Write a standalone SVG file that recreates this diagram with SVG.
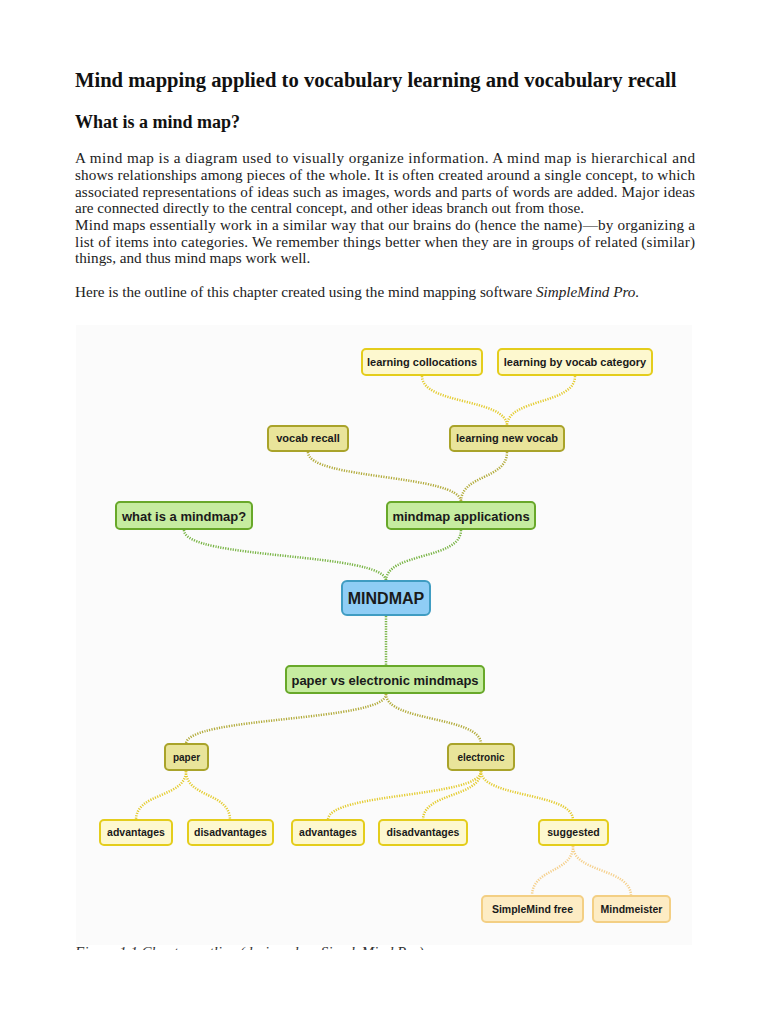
<svg xmlns="http://www.w3.org/2000/svg" width="768" height="1024" viewBox="0 0 768 1024">
<defs>
<clipPath id="capclip"><rect x="0" y="930" width="768" height="20"/></clipPath>
</defs>
<style>
.h1{font-family:"Liberation Serif",serif;font-weight:bold;font-size:20.6px;fill:#111}
.h2{font-family:"Liberation Serif",serif;font-weight:bold;font-size:18px;fill:#111}
.p{font-family:"Liberation Serif",serif;font-size:15.2px;fill:#222}
.cap{font-family:"Liberation Serif",serif;font-style:italic;font-size:15px;fill:#333}
.n rect{stroke-width:2}
.n text{font-family:"Liberation Sans",Arial,sans-serif;font-weight:bold;fill:#1a1a1a;text-anchor:middle}
.y rect{fill:#fdf8cf;stroke:#e4cd1c}
.o rect{fill:#e9e49a;stroke:#a9a32a}
.g rect{fill:#c6eca0;stroke:#68a82a}
.b rect{fill:#8fcdf5;stroke:#3f9cc2}
.r rect{fill:#fdecc4;stroke:#f3cf84}
.c path{fill:none;stroke-width:2.5;stroke-dasharray:1.2 1.3}
.cy{stroke:#e4cc30}
.co{stroke:#b2ab3a}
.cg{stroke:#78b444}
.cr{stroke:#f5d08c}
</style>
<text class="h1" x="75" y="87">Mind mapping applied to vocabulary learning and vocabulary recall</text>
<text class="h2" x="75" y="128">What is a mind map?</text>
<g id="body">
<text class="p" x="75" y="163" textLength="620" lengthAdjust="spacing">A mind map is a diagram used to visually organize information. A mind map is hierarchical and</text>
<text class="p" x="75" y="180" textLength="620" lengthAdjust="spacing">shows relationships among pieces of the whole. It is often created around a single concept, to which</text>
<text class="p" x="75" y="197" textLength="620" lengthAdjust="spacing">associated representations of ideas such as images, words and parts of words are added. Major ideas</text>
<text class="p" x="75" y="213">are connected directly to the central concept, and other ideas branch out from those.</text>
<text class="p" x="75" y="230" textLength="620" lengthAdjust="spacing">Mind maps essentially work in a similar way that our brains do (hence the name)—by organizing a</text>
<text class="p" x="75" y="247" textLength="620" lengthAdjust="spacing">list of items into categories. We remember things better when they are in groups of related (similar)</text>
<text class="p" x="75" y="263">things, and thus mind maps work well.</text>
<text class="p" x="75" y="297">Here is the outline of this chapter created using the mind mapping software <tspan font-style="italic">SimpleMind Pro.</tspan></text>
</g>
<rect x="76" y="325" width="616" height="620" fill="#fbfbfb"/>
<g id="connectors" class="c">
<path class="cy" d="M422,376 C422,405 507,398 507,426"/>
<path class="cy" d="M575,376 C575,405 507,398 507,426"/>
<path class="co" d="M308,452 C308,480 461,474 461,502"/>
<path class="co" d="M507,452 C507,480 461,474 461,502"/>
<path class="cg" d="M184,530 C184,560 386,552 386,581"/>
<path class="cg" d="M461,530 C461,560 386,552 386,581"/>
<path class="cg" d="M386,616 L386,666"/>
<path class="co" d="M386,694 C386,722 186,716 186,744"/>
<path class="co" d="M386,694 C386,722 481,716 481,744"/>
<path class="cy" d="M186,771 C186,798 136,792 136,820"/>
<path class="cy" d="M186,771 C186,798 230,792 230,820"/>
<path class="cy" d="M481,771 C481,798 328,792 328,820"/>
<path class="cy" d="M481,771 C481,798 423,792 423,820"/>
<path class="cy" d="M481,771 C481,798 573,792 573,820"/>
<path class="cr" d="M573,846 C573,873 532,868 532,896"/>
<path class="cr" d="M573,846 C573,873 631,868 631,896"/>
</g>
<g id="n-collocations" class="n y"><rect x="362" y="349" width="120" height="26" rx="4"/><text x="422" y="366" font-size="11">learning collocations</text></g>
<g id="n-category" class="n y"><rect x="498" y="349" width="154" height="26" rx="4"/><text x="575" y="366" font-size="11">learning by vocab category</text></g>
<g id="n-recall" class="n o"><rect x="268" y="426" width="80" height="25" rx="4"/><text x="308" y="442" font-size="11">vocab recall</text></g>
<g id="n-newvocab" class="n o"><rect x="450" y="426" width="114" height="25" rx="4"/><text x="507" y="442" font-size="11">learning new vocab</text></g>
<g id="n-whatis" class="n g"><rect x="116" y="502" width="136" height="27" rx="4"/><text x="184" y="521" font-size="13">what is a mindmap?</text></g>
<g id="n-apps" class="n g"><rect x="387" y="502" width="148" height="27" rx="4"/><text x="461" y="521" font-size="13">mindmap applications</text></g>
<g id="n-mindmap" class="n b"><rect x="342" y="581" width="88" height="34" rx="5"/><text x="386" y="604" font-size="16">MINDMAP</text></g>
<g id="n-paperelec" class="n g"><rect x="286" y="666" width="198" height="27" rx="4"/><text x="385" y="685" font-size="13">paper vs electronic mindmaps</text></g>
<g id="n-paper" class="n o"><rect x="165" y="744" width="43" height="26" rx="4"/><text x="186.5" y="761" font-size="10">paper</text></g>
<g id="n-electronic" class="n o"><rect x="448" y="744" width="66" height="26" rx="4"/><text x="481" y="761" font-size="10">electronic</text></g>
<g id="n-adv1" class="n y"><rect x="100" y="820" width="72" height="25" rx="4"/><text x="136" y="836" font-size="10.5">advantages</text></g>
<g id="n-dis1" class="n y"><rect x="188" y="820" width="85" height="25" rx="4"/><text x="230.5" y="836" font-size="10.5">disadvantages</text></g>
<g id="n-adv2" class="n y"><rect x="292" y="820" width="72" height="25" rx="4"/><text x="328" y="836" font-size="10.5">advantages</text></g>
<g id="n-dis2" class="n y"><rect x="379" y="820" width="88" height="25" rx="4"/><text x="423" y="836" font-size="10.5">disadvantages</text></g>
<g id="n-suggested" class="n y"><rect x="539" y="820" width="69" height="25" rx="4"/><text x="573.5" y="836" font-size="10.5">suggested</text></g>
<g id="n-smfree" class="n r"><rect x="482" y="896" width="101" height="26" rx="4"/><text x="532.5" y="913" font-size="10.5">SimpleMind free</text></g>
<g id="n-mindmeister" class="n r"><rect x="593" y="896" width="77" height="26" rx="4"/><text x="631.5" y="913" font-size="10.5">Mindmeister</text></g>
<text class="cap" x="75" y="957" clip-path="url(#capclip)">Figure 1.1 Chapter outline (designed on SimpleMind Pro)</text>
</svg>
